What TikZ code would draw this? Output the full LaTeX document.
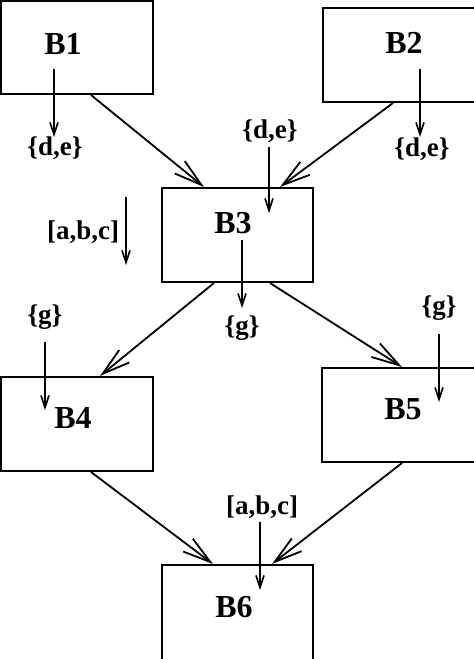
\documentclass[tikz,border=0pt]{standalone}
\usepackage{fontspec}
\setmainfont{Liberation Serif}
\usetikzlibrary{arrows.meta}
\begin{document}
\begin{tikzpicture}[x=1pt,y=-1pt,
  blockbox/.style={draw,line width=2pt,inner sep=0pt},
  blocklabel/.style={inner sep=0pt,font=\fontsize{32}{32}\selectfont\bfseries},
  setlabel/.style={inner sep=0pt,font=\fontsize{27}{27}\selectfont\bfseries},
  edge/.style={line width=1.8pt,-{Straight Barb[length=28pt,width=16pt,line width=1.8pt]}},
  flow/.style={line width=1.6pt,-{Straight Barb[length=12pt,width=8pt,line width=1.6pt]}}]
\useasboundingbox (0,0) rectangle (474,659);
\clip (0,0) rectangle (474,659);
% blocks
\node[blockbox,minimum width=152pt,minimum height=93pt] (B1) at (77,47.5) {};
\node[blockbox,minimum width=153pt,minimum height=94pt] (B2) at (399.5,55) {};
\node[blockbox,minimum width=151pt,minimum height=94pt] (B3) at (237.5,235) {};
\node[blockbox,minimum width=152pt,minimum height=94pt] (B4) at (77,424) {};
\node[blockbox,minimum width=154pt,minimum height=94pt] (B5) at (399,415) {};
\node[blockbox,minimum width=151pt,minimum height=97pt] (B6) at (237.5,613.5) {};
% block labels
\node[blocklabel] (L1) at (63,44) {B1};
\node[blocklabel] (L2) at (404,43) {B2};
\node[blocklabel] (L3) at (233,223) {B3};
\node[blocklabel] (L4) at (73,418) {B4};
\node[blocklabel] (L5) at (403,409) {B5};
\node[blocklabel] (L6) at (234,607) {B6};
% edges
\draw[edge] ([xshift=14pt]B1.south) -- ([xshift=-33.5pt]B3.north);
\draw[edge] ([xshift=-6.5pt]B2.south) -- ([xshift=42.5pt]B3.north);
\draw[edge] ([xshift=-23.5pt]B3.south) -- ([xshift=23pt]B4.north);
\draw[edge] ([xshift=32.5pt]B3.south) -- ([xshift=3pt]B5.north);
\draw[edge] ([xshift=14pt]B4.south) -- ([xshift=-24.5pt]B6.north);
\draw[edge] ([xshift=3pt]B5.south) -- ([xshift=34.5pt]B6.north);
% set labels
\node[setlabel] (s1) at (55,148) {\{d,e\}};
\node[setlabel] (s2) at (422,149) {\{d,e\}};
\node[setlabel] (s3) at (270,131) {\{d,e\}};
\node[setlabel] (s4) at (242,328) {\{g\}};
\node[setlabel] (s5) at (83,232) {[a,b,c]};
\node[setlabel] (s6) at (45,317) {\{g\}};
\node[setlabel] (s7) at (439,308) {\{g\}};
\node[setlabel] (s8) at (262,507) {[a,b,c]};
% flow arrows
\coordinate (a1s) at (54,69);  \coordinate (a1e) at (54,137);
\coordinate (a2s) at (420,69); \coordinate (a2e) at (420,137);
\coordinate (a3s) at (269,147); \coordinate (a3e) at (269,213);
\coordinate (a4s) at (242,240); \coordinate (a4e) at (242,308);
\coordinate (a5s) at (126,197); \coordinate (a5e) at (126,265);
\coordinate (a6s) at (45,342); \coordinate (a6e) at (45,410);
\coordinate (a7s) at (439,334); \coordinate (a7e) at (439,402);
\coordinate (a8s) at (260,522); \coordinate (a8e) at (260,590);
\draw[flow] (a1s) -- (a1e);
\draw[flow] (a2s) -- (a2e);
\draw[flow] (a3s) -- (a3e);
\draw[flow] (a4s) -- (a4e);
\draw[flow] (a5s) -- (a5e);
\draw[flow] (a6s) -- (a6e);
\draw[flow] (a7s) -- (a7e);
\draw[flow] (a8s) -- (a8e);
\end{tikzpicture}
\end{document}
